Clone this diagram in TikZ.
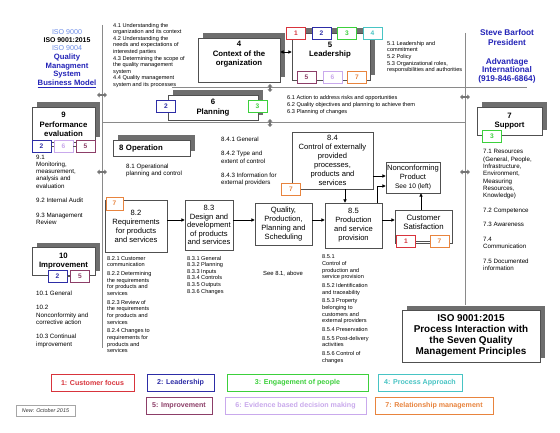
\documentclass[tikz,border=0pt]{standalone}
\usepackage{fontspec}
\setmainfont{Liberation Sans}
\usetikzlibrary{shadows,arrows.meta}
\definecolor{c1}{HTML}{D8343C}
\definecolor{c2}{HTML}{2D2DA6}
\definecolor{c3}{HTML}{3CD03C}
\definecolor{c4}{HTML}{48C4C4}
\definecolor{c5}{HTML}{8C3E68}
\definecolor{c6}{HTML}{C9A9EC}
\definecolor{c7}{HTML}{E8843E}
\definecolor{hb}{HTML}{2424B8}
\definecolor{lb}{HTML}{6E8EE8}
\definecolor{shd}{HTML}{6E6E6E}
\definecolor{sepc}{HTML}{8A8A8A}
\definecolor{bd}{HTML}{505050}
\newcommand{\fxT}{\fontsize{5.6}{6.6}\selectfont}
\newcommand{\fxS}{\fontsize{6.2}{7.3}\selectfont}
\newcommand{\fxB}{\bfseries\fontsize{7.8}{9.5}\selectfont}
\newcommand{\fxR}{\fontsize{7.6}{9}\selectfont}
\newcommand{\fxTag}{\bfseries\fontsize{6.6}{7}\selectfont}
\newcommand{\fxLeg}{\bfseries\fontsize{7.1}{8}\selectfont}
\newcommand{\fxISO}{\bfseries\fontsize{9.9}{11}\selectfont}
\newcommand{\fxH}{\bfseries\fontsize{8.3}{9}\selectfont}
\begin{document}
\begin{tikzpicture}[x=1pt,y=-1pt,
  sepl/.style={draw=sepc, line width=1pt},
  mkh/.style={draw=sepc!85!black, line width=1.4pt, {Triangle[length=2.6pt,width=4.6pt]}-{Triangle[length=2.6pt,width=4.6pt]}},
  box/.style={draw=bd, line width=0.7pt, fill=white, inner sep=0pt, align=center, font=\fxR},
  sbox/.style={box, font=\fxB, drop shadow={shadow xshift=4.5pt, shadow yshift=4.5pt, fill=shd, opacity=1}},
  tag/.style={draw=#1, text=#1, fill=white, line width=0.7pt, minimum width=19pt, minimum height=12pt, inner sep=0pt, font=\fxTag},
  leg/.style={draw=#1, text=#1, fill=white, line width=0.7pt, inner sep=0pt, minimum height=17pt, font=\fxLeg},
  arr/.style={draw=black, line width=0.6pt, -{Triangle[length=3.2pt,width=3.2pt]}},
  darr/.style={draw=black, line width=0.6pt, {Triangle[length=3.2pt,width=3.2pt]}-{Triangle[length=3.2pt,width=3.2pt]}},
  txt/.style={anchor=north west, inner sep=0pt, align=left, text=black},
  one/.style={anchor=base, inner sep=0pt},
  tagl/.style={draw=bd, line width=0.6pt}
]
\fill[white] (0,0) rectangle (560,433);
\useasboundingbox (0,0) rectangle (560,433);

% separators
\draw[sepl] (102,25) -- (102,348);
\draw[sepl] (465,33) -- (465,305);
\draw[sepl] (172,88) -- (527,88);
\draw[sepl] (102,123) -- (465,123);
\draw[mkh] (97,95) -- (107,95);
\draw[mkh] (97,172) -- (107,172);
\draw[mkh] (460,97) -- (470,97);
\draw[mkh] (460,172) -- (470,172);
\draw[mkh] (270,84) -- (270,92);
\draw[mkh] (270,119) -- (270,127);

% top-left title
\node[one, text=lb, font=\fontsize{7.1}{8}\selectfont] (ti1) at (67,34.6) {ISO 9000};
\node[one, text=black, font=\bfseries\fontsize{6.9}{8}\selectfont] (ti2) at (67,42.5) {ISO 9001:2015};
\node[one, text=lb, font=\fontsize{7.1}{8}\selectfont] (ti3) at (67,50.6) {ISO 9004};
\node[one, text=hb, font=\bfseries\fontsize{7.7}{9}\selectfont] (ti4) at (67,59.8) {Quality};
\node[one, text=hb, font=\bfseries\fontsize{7.7}{9}\selectfont] (ti5) at (67,68.8) {Managment};
\node[one, text=hb, font=\bfseries\fontsize{7.7}{9}\selectfont] (ti6) at (67,76.8) {System};
\node[one, text=hb, font=\bfseries\fontsize{7.7}{9}\selectfont] (ti7) at (67,85.8) {\underline{Business Model}};

% top-right
\node[one, text=hb, font=\fxH] (sb1) at (507,36) {Steve Barfoot};
\node[one, text=hb, font=\fxH] (sb2) at (507,46) {President};
\node[one, text=hb, font=\fxH] (sb3) at (507,65) {Advantage};
\node[one, text=hb, font=\fxH] (sb4) at (507,73) {International};
\node[one, text=hb, font=\fxH] (sb5) at (507,82) {(919-846-6864)};

% shadowed boxes
\node[sbox, minimum width=82pt, minimum height=44pt] (ctx) at (239,60) {};
\node[anchor=north, align=center, inner sep=0pt, font=\fxB] (ctxt) at (239,41.2) {4\\Context of the\\organization};
\node[sbox, minimum width=78pt, minimum height=47pt] (lead) at (331,56.5) {};
\node[anchor=north, align=center, inner sep=0pt, font=\bfseries\fontsize{7.8}{9}\selectfont] (leadt) at (330,42.2) {5\\Leadership};
\node[sbox, minimum width=90pt, minimum height=25pt] (plan) at (213,107.5) {6\\Planning};
\node[sbox, minimum width=63pt, minimum height=35pt] (perf) at (63.5,124.5) {9\\Performance\\evaluation};
\node[sbox, text width=65pt, inner xsep=6pt, align=left, minimum height=16pt] (oper) at (151.5,148) {8 Operation};
\node[sbox, minimum width=65pt, minimum height=28pt] (supp) at (509.5,121) {7\\Support};
\node[sbox, minimum width=63pt, minimum height=28pt] (impr) at (63.5,261) {10\\Improvement};
\node[sbox, font=\fxISO, minimum width=138pt, minimum height=52pt] (iso) at (471,336) {ISO 9001:2015\\Process Interaction with\\the Seven Quality\\Management Principles};

% process boxes
\node[box, minimum width=81pt, minimum height=57pt] (p84) at (332.5,160.5) {8.4\\Control of externally\\provided\\processes,\\products and\\services};
\node[box, minimum width=62pt, minimum height=52pt] (p82) at (136,226) {8.2\\Requirements\\for products\\and services};
\node[box, font=\fontsize{7.6}{8.6}\selectfont, minimum width=48pt, minimum height=50pt] (p83) at (209,225) {8.3\\Design and\\development\\of products\\and services};
\node[box, minimum width=57pt, minimum height=42pt] (qps) at (283.5,224) {Quality,\\Production,\\Planning and\\Scheduling};
\node[box, minimum width=57pt, minimum height=45pt] (p85) at (353.5,225.5) {8.5\\Production\\and service\\provision};
\node[box, minimum width=54pt, minimum height=31pt] (nc) at (413,177.5) {Nonconforming\\Product\\{\fontsize{6.6}{7}\selectfont See 10 (left)}};
\node[box, minimum width=57pt, minimum height=33pt] (cs) at (423.5,226.5) {};
\node[anchor=center, align=center, inner sep=0pt, font=\fontsize{7.8}{9}\selectfont] (cst) at (423.5,222.5) {Customer\\Satisfaction};

% tags
\node[tag=c1] (l1) at (296,33.5) {1};
\node[tag=c2] (l2) at (321.5,33.5) {2};
\node[tag=c3] (l3) at (347,33.5) {3};
\node[tag=c4] (l4) at (372.5,33.5) {4};
\node[tag=c5] (l5) at (306.5,77.5) {5};
\node[tag=c6] (l6) at (332.5,77.5) {6};
\node[tag=c7] (l7) at (357,77.5) {7};
\node[tag=c2] (pl2) at (166,106.5) {2};
\node[tag=c3] (pl3) at (257.5,106) {3};
\draw[tagl] (perf.south) ++(0,0);
\node[tag=c2] (pe2) at (41.5,146.5) {2};
\node[tag=c6] (pe6) at (63.5,146.5) {6};
\node[tag=c5] (pe5) at (85.5,146.5) {5};
\draw[tagl] (pe2) -- (pe6) -- (pe5);
\node[tag=c3] (su3) at (492,136.5) {3};
\node[tag=c2] (im2) at (57.5,276) {2};
\node[tag=c5] (im5) at (80,276) {5};
\draw[tagl] (im2) -- (im5);
\node[tag=c7] (p84t) at (291,189) {7};
\node[tag=c7, minimum width=17pt, minimum height=13pt] (p82t) at (114.5,203.5) {7};
\node[tag=c1] (cs1) at (406,241) {1};
\node[tag=c7] (cs7) at (439.5,241) {7};
\draw[tagl] (cs1) -- (cs7);

% connectors
\coordinate (yr) at (0,220);
\coordinate (xa) at (345,0);
\coordinate (xb) at (377,0);
\coordinate (yb) at (0,186);
\coordinate (yc) at (0,176);
\coordinate (xd) at (421,0);
\draw[arr] (p82.east |- yr) -- (p83.west |- yr);
\draw[arr] (p83.east |- yr) -- (qps.west |- yr);
\draw[arr] (qps.east |- yr) -- (p85.west |- yr);
\draw[arr] (p85.east |- yr) -- (cs.west |- yr);
\draw[arr] (p84.south -| xa) -- (p85.north -| xa);
\draw[arr] (p85.north -| xb) |- (nc.west |- yb);
\draw[arr] (p84.east |- yc) -- (nc.west |- yc);
\draw[arr] (cs.north -| xd) -- (nc.south -| xd);
\draw[darr] ([yshift=8pt]ctx.east) -- ([yshift=4.5pt]lead.west);

% text blocks
\node[txt, font=\fxT] (t4) at (113,22.8) {4.1 Understanding the\\organization and its context\\4.2 Understanding the\\needs and expectations of\\interested parties\\4.3 Determining the scope of\\the quality management\\system\\4.4 Quality management\\system and its processes};
\node[txt, font=\fontsize{5.6}{6.7}\selectfont] (t5) at (387,40.8) {5.1 Leadership and\\commitment\\5.2 Policy\\5.3 Organizational roles,\\responsibilities and authorities};
\node[txt, font=\fontsize{5.6}{7}\selectfont] (t6) at (287,94.8) {6.1 Action to address risks and opportunities\\6.2 Quality objectives and planning to achieve them\\6.3 Planning of changes};
\node[txt, font=\fxS] (t7) at (483,149.5) {7.1 Resources\\(General, People,\\Infrastructure,\\Environment,\\Measuring\\Resources,\\Knowledge)\\[7.3pt]7.2 Competence\\[7.3pt]7.3 Awareness\\[7.3pt]7.4\\Communication\\[7.3pt]7.5 Documented\\information};
\node[txt, font=\fxS] (t9) at (36,154.5) {9.1\\Monitoring,\\measurement,\\analysis and\\evaluation\\[7.3pt]9.2 Internal Audit\\[7.3pt]9.3 Management\\Review};
\node[txt, font=\fxS] (t10) at (36,290.5) {10.1 General\\[7.3pt]10.2\\Nonconformity and\\corrective action\\[7.3pt]10.3 Continual\\improvement};
\node[txt, font=\fxS] (t84) at (221,136.5) {8.4.1 General\\[7.3pt]8.4.2 Type and\\extent of control\\[7.3pt]8.4.3 Information for\\external providers};
\node[txt, font=\fontsize{6.2}{7}\selectfont] (t81) at (126,163.5) {8.1 Operational\\planning and control};
\node[txt, font=\fxT] (t82) at (107,256.1) {8.2.1 Customer\\communication\\[2.2pt]8.2.2 Determining\\the requirements\\for products and\\services\\[2.2pt]8.2.3 Review of\\the requirements\\for products and\\services\\[2.2pt]8.2.4 Changes to\\requirements for\\products and\\services};
\node[txt, font=\fxT] (t83) at (187,255.8) {8.3.1 General\\8.3.2 Planning\\8.3.3 Inputs\\8.3.4 Controls\\8.3.5 Outputs\\8.3.6 Changes};
\node[one, font=\fontsize{5.9}{7}\selectfont] (tsee) at (283,275.1) {See 8.1, above};
\node[txt, font=\fxT] (t85) at (322,254.8) {8.5.1\\Control of\\production and\\service provision\\[2.2pt]8.5.2 Identification\\and traceability\\[2.2pt]8.5.3 Property\\belonging to\\customers and\\external providers\\[2.2pt]8.5.4 Preservation\\[2.2pt]8.5.5 Post-delivery\\activities\\[2.2pt]8.5.6 Control of\\changes};

% legend
\node[leg=c1, minimum width=83pt] (g1) at (92.5,382.5) {1: Customer focus};
\node[leg=c2, minimum width=67pt] (g2) at (180.5,382.5) {2: Leadership};
\node[leg=c3, minimum width=141pt] (g3) at (297.5,382.5) {3: Engagement of people};
\node[leg=c4, minimum width=84pt] (g4) at (420,382.5) {4: Process Approach};
\node[leg=c5, minimum width=66pt] (g5) at (179,405.5) {5: Improvement};
\node[leg=c6, minimum width=141pt] (g6) at (295.5,405.5) {6: Evidence based decision making};
\node[leg=c7, minimum width=118pt] (g7) at (434,405.5) {7: Relationship management};
\node[draw=gray!70, line width=0.6pt, text=black!80, inner sep=0pt, minimum width=59pt, minimum height=11pt, font=\itshape\fontsize{5.4}{6}\selectfont] (newd) at (45.5,410.5) {New: October 2015};
\end{tikzpicture}
\end{document}
